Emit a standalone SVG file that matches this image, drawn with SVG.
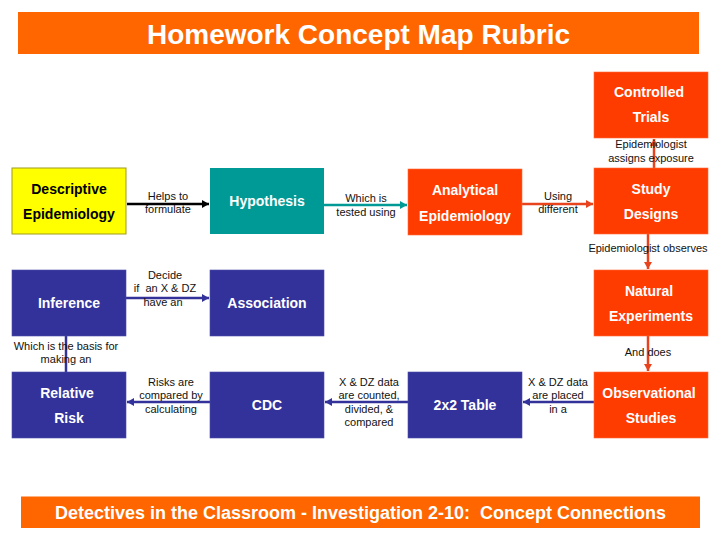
<svg xmlns="http://www.w3.org/2000/svg" width="720" height="540" viewBox="0 0 720 540">
<style>
text{font-family:"Liberation Sans",Arial,sans-serif;text-anchor:middle;white-space:pre}
.t{font-size:14px;font-weight:bold;fill:#fff}
.k{font-size:14px;font-weight:bold;fill:#000}
.l{font-size:11px;fill:#111}
.o{fill:#ff3c00;stroke:#ff6a3a;stroke-width:.6}
.b{fill:#33329a;stroke:#4a4aa8;stroke-width:.6}
.g{fill:#009a96}
.c{fill:none;stroke-width:2.5}
</style>
<defs>
<marker id="ab" markerUnits="userSpaceOnUse" markerWidth="8" markerHeight="8" refX="7" refY="4" orient="auto"><path d="M0 0L7 4L0 8z" fill="#000"/></marker>
<marker id="at" markerUnits="userSpaceOnUse" markerWidth="8" markerHeight="8" refX="7" refY="4" orient="auto"><path d="M0 0L7 4L0 8z" fill="#009a96"/></marker>
<marker id="ar" markerUnits="userSpaceOnUse" markerWidth="8" markerHeight="8" refX="7" refY="4" orient="auto"><path d="M0 0L7 4L0 8z" fill="#e8431c"/></marker>
<marker id="au" markerUnits="userSpaceOnUse" markerWidth="8" markerHeight="8" refX="7" refY="4" orient="auto"><path d="M0 0L7 4L0 8z" fill="#33329a"/></marker>
</defs>
<g id="title"><rect x="18" y="12" width="681" height="42" fill="#ff6600"/><text x="358.5" y="43.5" font-size="28" font-weight="bold" fill="#fff">Homework Concept Map Rubric</text></g>
<g id="footer"><rect x="21" y="496.500" width="679" height="31.500" fill="#ff6600"/><text x="360.5" y="519" font-size="18" font-weight="bold" fill="#fff">Detectives in the Classroom - Investigation 2-10:  Concept Connections</text></g>
<g id="connectors">
<path class="c" stroke="#000" marker-end="url(#ab)" d="M127 204H209"/>
<path class="c" stroke="#009a96" marker-end="url(#at)" d="M324 205H407"/>
<path class="c" stroke="#e8431c" marker-end="url(#ar)" d="M522 204H593"/>
<path class="c" stroke="#e8431c" marker-end="url(#ar)" d="M654 168V139"/>
<path class="c" stroke="#e8431c" marker-end="url(#ar)" d="M648 234V269"/>
<path class="c" stroke="#e8431c" marker-end="url(#ar)" d="M648 336V371"/>
<path class="c" stroke="#33329a" marker-end="url(#au)" d="M126 298H209"/>
<path class="c" stroke="#33329a" d="M66 372V336"/>
<path class="c" stroke="#33329a" marker-end="url(#au)" d="M210 402H127"/>
<path class="c" stroke="#33329a" marker-end="url(#au)" d="M408 402H325"/>
<path class="c" stroke="#33329a" marker-end="url(#au)" d="M594 402H523"/>
</g>
<g id="controlled-trials"><rect class="o" x="594" y="72" width="114" height="66"/><text class="t" x="649" y="97">Controlled</text><text class="t" x="651" y="122">Trials</text></g>
<g id="descriptive-epidemiology"><rect x="12" y="168" width="114" height="66" fill="#ffff00" stroke="#a09a20" stroke-width="1"/><text class="k" x="69" y="194">Descriptive</text><text class="k" x="69" y="219">Epidemiology</text></g>
<g id="hypothesis"><rect class="g" x="210" y="168" width="114" height="66"/><text class="t" x="267" y="206">Hypothesis</text></g>
<g id="analytical-epidemiology"><rect class="o" x="408" y="169" width="114" height="66"/><text class="t" x="465" y="195">Analytical</text><text class="t" x="465" y="221">Epidemiology</text></g>
<g id="study-designs"><rect class="o" x="594" y="168" width="114" height="66"/><text class="t" x="651" y="194">Study</text><text class="t" x="651" y="219">Designs</text></g>
<g id="inference"><rect class="b" x="12" y="270" width="114" height="66"/><text class="t" x="69" y="308">Inference</text></g>
<g id="association"><rect class="b" x="210" y="270" width="114" height="66"/><text class="t" x="267" y="308">Association</text></g>
<g id="natural-experiments"><rect class="o" x="594" y="270" width="114" height="66"/><text class="t" x="649" y="296">Natural</text><text class="t" x="651" y="321">Experiments</text></g>
<g id="relative-risk"><rect class="b" x="12" y="372" width="114" height="66"/><text class="t" x="67" y="398">Relative</text><text class="t" x="69" y="423">Risk</text></g>
<g id="cdc"><rect class="b" x="210" y="372" width="114" height="66"/><text class="t" x="267" y="410">CDC</text></g>
<g id="table"><rect class="b" x="408" y="372" width="114" height="66"/><text class="t" x="465" y="410">2x2 Table</text></g>
<g id="observational-studies"><rect class="o" x="594" y="372" width="114" height="66"/><text class="t" x="649" y="398">Observational</text><text class="t" x="651" y="423">Studies</text></g>
<g id="labels">
<text class="l" x="168" y="200">Helps to</text><text class="l" x="168" y="213">formulate</text>
<text class="l" x="366" y="202">Which is</text><text class="l" x="366" y="216">tested using</text>
<text class="l" x="558" y="200">Using</text><text class="l" x="558" y="213">different</text>
<text class="l" x="651" y="148">Epidemiologist</text><text class="l" x="651" y="162">assigns exposure</text>
<text class="l" x="648" y="252">Epidemiologist observes</text>
<text class="l" x="165" y="279">Decide</text><text class="l" x="165" y="292">if  an X &amp; DZ</text><text class="l" x="163" y="306">have an</text>
<text class="l" x="66" y="350">Which is the basis for</text><text class="l" x="66" y="363">making an</text>
<text class="l" x="648" y="356">And does</text>
<text class="l" x="171" y="386">Risks are</text><text class="l" x="171" y="399">compared by</text><text class="l" x="171" y="413">calculating</text>
<text class="l" x="369" y="386">X &amp; DZ data</text><text class="l" x="369" y="399">are counted,</text><text class="l" x="369" y="413">divided, &amp;</text><text class="l" x="369" y="426">compared</text>
<text class="l" x="558" y="386">X &amp; DZ data</text><text class="l" x="558" y="399">are placed</text><text class="l" x="558" y="413">in a</text>
</g>
</svg>
